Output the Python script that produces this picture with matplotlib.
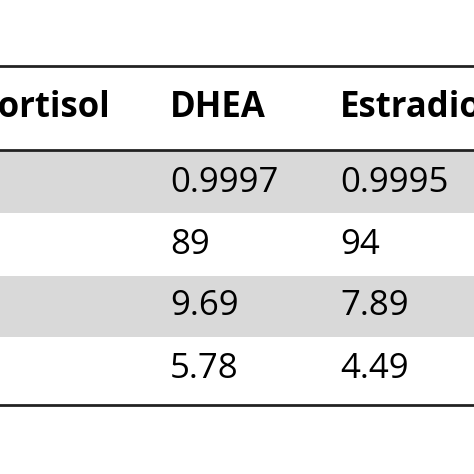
import matplotlib.pyplot as plt
from matplotlib.patches import Rectangle

headers = ['cortisol', 'DHEA', 'Estradiol']
dhea = ['0.9997', '89', '9.69', '5.78']
estradiol = ['0.9995', '94', '7.89', '4.49']

W, H = 474, 474
fig = plt.figure(figsize=(4.74, 4.74), dpi=100)
ax = fig.add_axes([0, 0, 1, 1])
ax.set_xlim(0, W)
ax.set_ylim(H, 0)
ax.axis('off')

bands = [(150, 213), (213, 276), (276, 337), (337, 405)]
centers = [183, 245, 306, 369]
for i, (y0, y1) in enumerate(bands):
    if i % 2 == 0:
        ax.add_patch(Rectangle((0, y0), W, y1 - y0, color='#d9d9d9', lw=0))

for y in [66, 150, 405]:
    ax.plot([0, W], [y, y], color='#222222', lw=2.0)

fs = 25
font = 'Open Sans'
ax.text(110, 108, headers[0], ha='right', va='center', fontsize=fs, fontweight='bold', family=font)
ax.text(170, 108, headers[1], ha='left', va='center', fontsize=fs, fontweight='bold', family=font)
ax.text(340, 108, headers[2], ha='left', va='center', fontsize=fs, fontweight='bold', family=font)

for y, a, b in zip(centers, dhea, estradiol):
    ax.text(170, y, a, ha='left', va='center', fontsize=fs, family=font)
    ax.text(340, y, b, ha='left', va='center', fontsize=fs, family=font)

fig.savefig('out.png', dpi=100, facecolor='white')
